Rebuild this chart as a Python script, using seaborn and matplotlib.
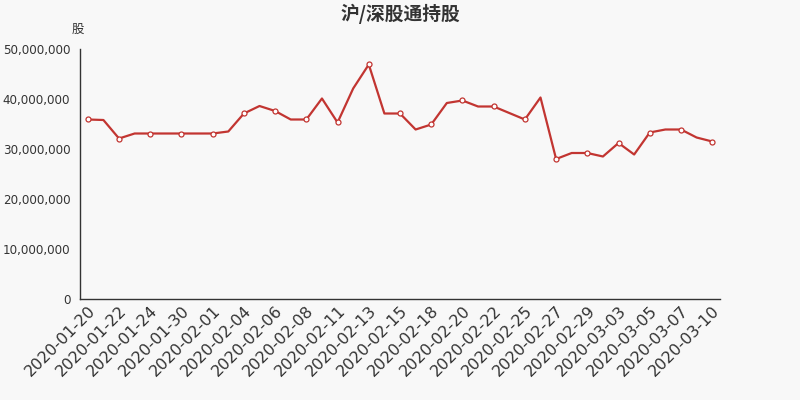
import matplotlib
matplotlib.use("Agg")
import matplotlib.pyplot as plt
import matplotlib.ticker as mticker
import seaborn as sns
import pandas as pd

dates = ["2020-01-20", "2020-01-21", "2020-01-22", "2020-01-23", "2020-01-24", "2020-01-29",
         "2020-01-30", "2020-01-31", "2020-02-01", "2020-02-03", "2020-02-04", "2020-02-05",
         "2020-02-06", "2020-02-07", "2020-02-08", "2020-02-10", "2020-02-11", "2020-02-12",
         "2020-02-13", "2020-02-14", "2020-02-15", "2020-02-17", "2020-02-18", "2020-02-19",
         "2020-02-20", "2020-02-21", "2020-02-22", "2020-02-24", "2020-02-25", "2020-02-26",
         "2020-02-27", "2020-02-28", "2020-02-29", "2020-03-02", "2020-03-03", "2020-03-04",
         "2020-03-05", "2020-03-06", "2020-03-07", "2020-03-09", "2020-03-10"]
holdings = [35.9, 35.8, 32.1, 33.1, 33.1, 33.1, 33.1, 33.1, 33.1, 33.5, 37.1, 38.6,
            37.6, 35.9, 35.9, 40.1, 35.3, 42.1, 46.9, 37.1, 37.1, 33.9, 34.9, 39.2,
            39.7, 38.5, 38.5, 37.2, 35.9, 40.3, 28.0, 29.2, 29.2, 28.5, 31.2, 28.9,
            33.3, 33.9, 33.9, 32.3, 31.5]
holdings = [v * 1_000_000 for v in holdings]

title = "沪/深股通持股"
unit_label = "股"

df = pd.DataFrame({"idx": range(len(dates)), "date": dates, "value": holdings})

sns.set_theme(style="white")
plt.rcParams["font.family"] = ["Noto Sans CJK SC", "DejaVu Sans"]

bg = "#f8f8f8"
line_color = "#c23531"
axis_color = "#333333"

fig = plt.figure(figsize=(8, 4), dpi=100, facecolor=bg)
ax = fig.add_axes([80 / 800, 1 - 299 / 400, 640 / 800, 250 / 400])
ax.set_facecolor(bg)

sns.lineplot(data=df, x="idx", y="value", ax=ax, color=line_color, linewidth=1.6,
             marker="o", markevery=2, markersize=3.6, markerfacecolor="white",
             markeredgecolor=line_color, markeredgewidth=0.9)

ax.set_xlim(-0.5, len(dates) - 0.5)
ax.set_ylim(0, 50_000_000)
ax.set_xlabel("")
ax.set_ylabel("")

ax.yaxis.set_major_locator(mticker.MultipleLocator(10_000_000))
ax.yaxis.set_major_formatter(mticker.FuncFormatter(lambda v, p: f"{int(v):,}"))

label_pos = list(range(0, len(dates), 2))
ax.set_xticks(label_pos)
ax.set_xticklabels([dates[i] for i in label_pos], rotation=45, ha="right",
                   rotation_mode="anchor", fontsize=11.5, color=axis_color,
                   family=["DejaVu Sans"])
ax.set_xticks([i - 0.5 for i in range(0, len(dates), 2)], minor=True)
ax.tick_params(axis="x", which="major", length=0, pad=3)
ax.tick_params(axis="x", which="minor", length=5, width=1, color=axis_color)
ax.tick_params(axis="y", which="major", length=5, width=1, color=axis_color,
               labelsize=8.6, labelcolor=axis_color, pad=2)
for lab in ax.get_yticklabels():
    lab.set_family(["DejaVu Sans"])

for s in ["top", "right"]:
    ax.spines[s].set_visible(False)
for s in ["left", "bottom"]:
    ax.spines[s].set_color(axis_color)
    ax.spines[s].set_linewidth(1)

fig.text(0.5, 1 - 14 / 400, title, ha="center", va="center", fontsize=13.5,
         fontweight="bold", color=axis_color)
fig.text(78 / 800, 1 - 29 / 400, unit_label, ha="center", va="center", fontsize=9,
         color=axis_color)

fig.savefig("out.png", dpi=100, facecolor=bg)
